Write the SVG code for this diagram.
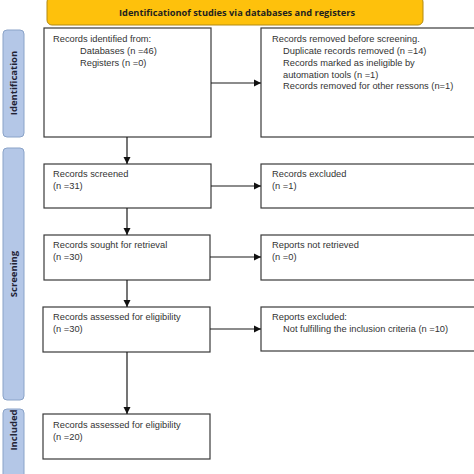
<svg xmlns="http://www.w3.org/2000/svg" width="474" height="474" viewBox="0 0 474 474">
<defs>
<style>
.box{fill:#fff;stroke:#3a3a3a;stroke-width:1.2}
.side{fill:#b4c7e7;stroke:#8aa3c8;stroke-width:1}
.t{font-family:"Liberation Sans",Arial,sans-serif;font-size:9.3px;fill:#333}
.st{font-family:"Open Sans","Liberation Sans",sans-serif;font-size:9.5px;font-weight:bold;fill:#1f2235}
.c{stroke:#1a1a1a;stroke-width:1.2;fill:none}
</style>
<marker id="ah" markerWidth="8" markerHeight="8" refX="7" refY="4" orient="auto" markerUnits="userSpaceOnUse">
<path d="M0,0.5 L7,4 L0,7.5 Z" fill="#111"/>
</marker>
</defs>
<rect width="474" height="474" fill="#fff"/>

<g id="banner">
<rect x="47" y="-3" width="376" height="28" rx="5" fill="#fec10c" stroke="#b38a10" stroke-width="1"/>
<text x="237" y="16" text-anchor="middle" style="font-family:'Open Sans','Liberation Sans',sans-serif;font-size:9.6px;font-weight:bold;fill:#1f1f1f" textLength="236" lengthAdjust="spacingAndGlyphs">Identificationof studies via databases and registers</text>
</g>

<g id="side-identification">
<rect class="side" x="3" y="30" width="21" height="107" rx="4"/>
<text class="st" transform="translate(17,83) rotate(-90)" text-anchor="middle">Identification</text>
</g>
<g id="side-screening">
<rect class="side" x="3" y="148" width="21" height="252" rx="4"/>
<text class="st" transform="translate(17,274) rotate(-90)" text-anchor="middle">Screening</text>
</g>
<g id="side-included">
<rect class="side" x="3" y="409" width="21" height="70" rx="4"/>
<text class="st" transform="translate(17,430) rotate(-90)" text-anchor="middle">Included</text>
</g>

<g id="n-identified">
<rect class="box" x="44" y="28" width="167" height="109"/>
<text class="t" x="53" y="42">Records identified from:</text>
<text class="t" x="80" y="54">Databases (n =46)</text>
<text class="t" x="80" y="66">Registers (n =0)</text>
</g>
<g id="n-removed">
<rect class="box" x="261" y="28" width="220" height="109"/>
<text class="t" x="272" y="42">Records removed before screening.</text>
<text class="t" x="283" y="54">Duplicate records removed (n =14)</text>
<text class="t" x="283" y="66">Records marked as ineligible by</text>
<text class="t" x="283" y="78">automation tools (n =1)</text>
<text class="t" x="283" y="89">Records removed for other ressons (n=1)</text>
</g>

<g id="n-screened">
<rect class="box" x="44" y="164" width="167" height="44"/>
<text class="t" x="53" y="177">Records screened</text>
<text class="t" x="53" y="189">(n =31)</text>
</g>
<g id="n-excluded">
<rect class="box" x="261" y="164" width="220" height="44"/>
<text class="t" x="272" y="177">Records excluded</text>
<text class="t" x="272" y="189">(n =1)</text>
</g>

<g id="n-sought">
<rect class="box" x="44" y="235" width="166" height="45"/>
<text class="t" x="53" y="248">Records sought for retrieval</text>
<text class="t" x="53" y="260">(n =30)</text>
</g>
<g id="n-notretrieved">
<rect class="box" x="261" y="235" width="220" height="45"/>
<text class="t" x="272" y="248">Reports not retrieved</text>
<text class="t" x="272" y="260">(n =0)</text>
</g>

<g id="n-assessed">
<rect class="box" x="43" y="307" width="167" height="45"/>
<text class="t" x="53" y="320">Records assessed for eligibility</text>
<text class="t" x="53" y="332">(n =30)</text>
</g>
<g id="n-reportsexcluded">
<rect class="box" x="261" y="307" width="220" height="44"/>
<text class="t" x="272" y="320">Reports excluded:</text>
<text class="t" x="283" y="332">Not fulfilling the inclusion criteria (n =10)</text>
</g>

<g id="n-included">
<rect class="box" x="43" y="414" width="167" height="45"/>
<text class="t" x="53" y="428">Records assessed for eligibility</text>
<text class="t" x="53" y="440">(n =20)</text>
</g>

<g id="connectors">
<line class="c" x1="127" y1="137" x2="127" y2="164" marker-end="url(#ah)"/>
<line class="c" x1="211" y1="83" x2="261" y2="83" marker-end="url(#ah)"/>
<line class="c" x1="211" y1="186" x2="261" y2="186" marker-end="url(#ah)"/>
<line class="c" x1="127" y1="208" x2="127" y2="235" marker-end="url(#ah)"/>
<line class="c" x1="210" y1="257" x2="261" y2="257" marker-end="url(#ah)"/>
<line class="c" x1="127" y1="280" x2="127" y2="307" marker-end="url(#ah)"/>
<line class="c" x1="210" y1="329" x2="261" y2="329" marker-end="url(#ah)"/>
<line class="c" x1="127" y1="352" x2="127" y2="414" marker-end="url(#ah)"/>
</g>
</svg>
